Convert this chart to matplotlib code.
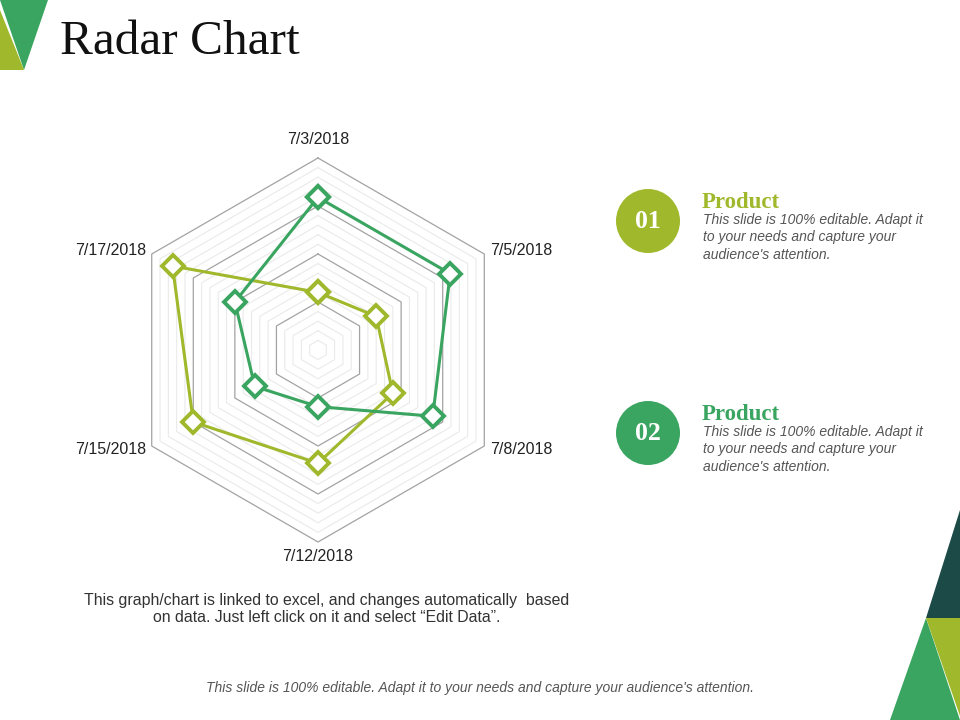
import numpy as np
import matplotlib
matplotlib.use("Agg")
import matplotlib.pyplot as plt
from matplotlib.patches import Polygon, Circle

# data
categories = ['7/3/2018', '7/5/2018', '7/8/2018', '7/12/2018', '7/15/2018', '7/17/2018']
product_01 = [6.0, 7.0, 9.0, 11.8, 15.0, 17.5]
product_02 = [15.9, 15.9, 13.8, 5.9, 7.6, 10.0]
r_max = 20
major_step = 5
minor_step = 1

c_lime = '#a0b82b'
c_green = '#3aa560'
c_teal = '#1b4a47'

plt.rcParams['font.family'] = ['Liberation Sans', 'DejaVu Sans']
serif = ['Liberation Serif', 'DejaVu Serif']

fig = plt.figure(figsize=(9.6, 7.2), dpi=100)

# background layer in pixel units for slide decoration and text
bg = fig.add_axes([0, 0, 1, 1])
bg.set_xlim(0, 960)
bg.set_ylim(720, 0)
bg.axis('off')

# corner shapes
bg.add_patch(Polygon([(0, 0), (48, 0), (24, 70)], closed=True, color=c_green, lw=0))
bg.add_patch(Polygon([(0, 10), (24, 70), (0, 70)], closed=True, color=c_lime, lw=0))
bg.add_patch(Polygon([(960, 510), (926, 618), (960, 618)], closed=True, color=c_teal, lw=0))
bg.add_patch(Polygon([(926, 618), (890, 720), (960, 720)], closed=True, color=c_green, lw=0))
bg.add_patch(Polygon([(926, 618), (960, 618), (960, 716)], closed=True, color=c_lime, lw=0))

bg.text(60, 54, 'Radar Chart', fontsize=35.5, family=serif,
        color='#111111', va='baseline', ha='left')

# product boxes
body = "This slide is 100% editable. Adapt it\nto your needs and capture your\naudience's attention."
for cy, num, col in [(221, '01', c_lime), (433, '02', c_green)]:
    bg.add_patch(Circle((648, cy), 32, color=col, lw=0))
    bg.text(648, cy + 1, num, fontsize=18.5, fontweight='bold', color='white',
            family=serif, ha='center', va='center')
    bg.text(702, cy - 13, 'Product', fontsize=16.5, fontweight='bold', color=col,
            family=serif, ha='left', va='baseline')
    bg.text(703, cy - 8, body, fontsize=10, style='italic', color='#555555',
            ha='left', va='top', linespacing=1.3)

bg.text(327, 609, 'This graph/chart is linked to excel, and changes automatically  based\n'
        'on data. Just left click on it and select \u201cEdit Data\u201d.',
        fontsize=11.4, color='#333333', ha='center', va='center', linespacing=1.15,
        family=['Liberation Sans Narrow', 'Liberation Sans', 'DejaVu Sans'])
bg.text(480, 688, "This slide is 100% editable. Adapt it to your needs and capture your audience's attention.",
        fontsize=10, style='italic', color='#555555', ha='center', va='center')

# radar axes: centre at (318, 350) px, radius 192 px
rax = fig.add_axes([118 / 960, (720 - 550) / 720, 400 / 960, 400 / 720])
lim = r_max * 200 / 192
rax.set_xlim(-lim, lim)
rax.set_ylim(-lim, lim)
rax.axis('off')

theta = np.deg2rad(90 - 60 * np.arange(len(categories)))
ring_t = np.append(theta, theta[0])

for level in np.arange(minor_step, r_max + 0.01, minor_step):
    if level % major_step == 0:
        rax.plot(level * np.cos(ring_t), level * np.sin(ring_t), color='#a3a3a3', lw=0.9, zorder=2)
    else:
        rax.plot(level * np.cos(ring_t), level * np.sin(ring_t), color='#eaeaea', lw=0.8, zorder=1)

for vals, col in [(product_01, c_lime), (product_02, c_green)]:
    v = np.append(vals, vals[0])
    rax.plot(v * np.cos(ring_t), v * np.sin(ring_t), color=col, lw=2.2,
             marker='D', markersize=11, markerfacecolor='white',
             markeredgecolor=col, markeredgewidth=2.8, zorder=5)

# category labels
lab_kw = dict(fontsize=11.5, va='center', color='#222222')
rax.text(0, r_max * 1.095, categories[0], ha='center', **lab_kw)
rax.text(0, -r_max * 1.077, categories[3], ha='center', **lab_kw)
for i, ha, sx in [(1, 'left', 1), (2, 'left', 1), (4, 'right', -1), (5, 'right', -1)]:
    sy = np.sign(np.sin(theta[i]))
    rax.text(sx * r_max * 0.895, sy * r_max * 0.52, categories[i], ha=ha, **lab_kw)

fig.savefig('out.png', dpi=100)
